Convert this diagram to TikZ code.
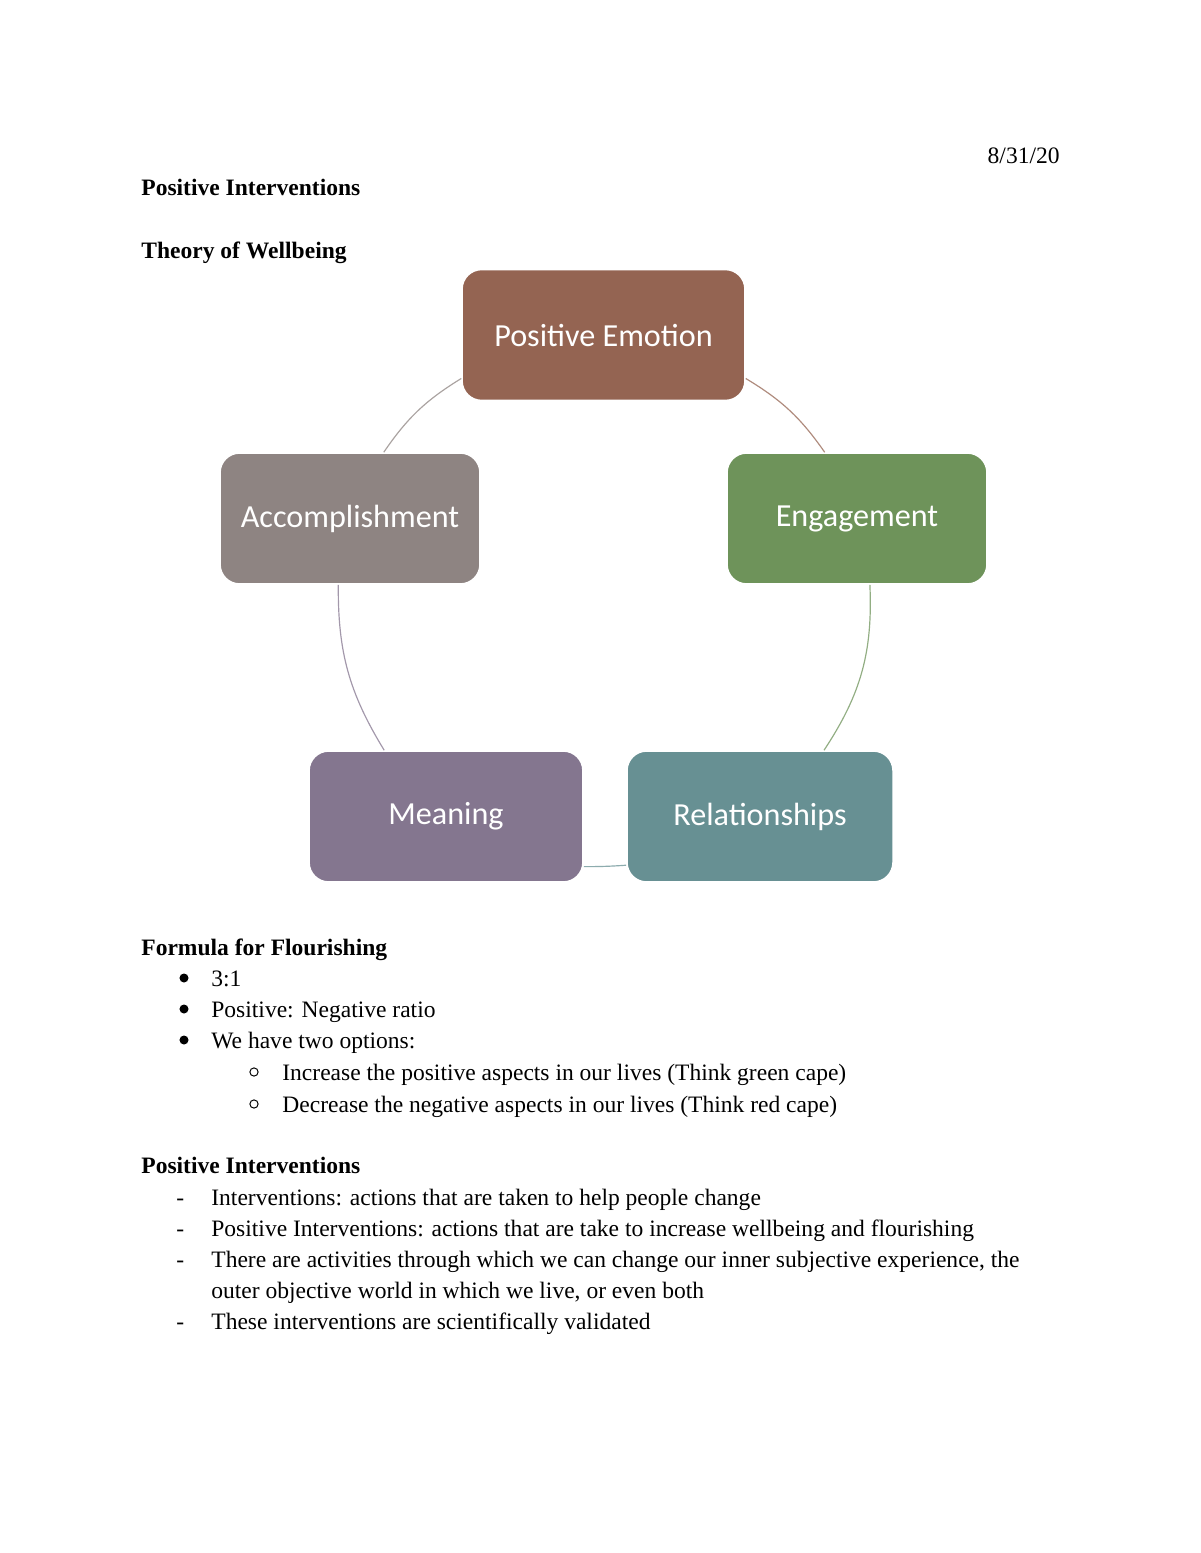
\documentclass[tikz,border=0pt]{standalone}
\usepackage{fontspec}
\setmainfont{Liberation Serif}
\newfontfamily\pillarfont{Carlito}
\usetikzlibrary{positioning,calc}

\definecolor{emotionbrown}{HTML}{946452}
\definecolor{engagegreen}{HTML}{6E935A}
\definecolor{relateteal}{HTML}{679093}
\definecolor{meaningpurple}{HTML}{84768F}
\definecolor{accomplgray}{HTML}{8E8482}

\begin{document}
\begin{tikzpicture}[
    x=0.51pt, y=-0.51pt,
    pillar/.style={rectangle, draw=white, line width=0.8pt, rounded corners=10pt,
                text=white, minimum height=66.8pt, font=\pillarfont\fontsize{16.4}{19}\selectfont},
    link/.style={line width=0.6pt},
    body/.style={anchor=base west, inner sep=0pt, font=\fontsize{12}{14}\selectfont},
    heading/.style={anchor=base west, inner sep=0pt, font=\fontsize{12}{14}\selectfont\bfseries},
    dot/.style={circle, fill=black, inner sep=0pt, minimum size=4.6pt},
    ring/.style={circle, draw=black, line width=0.5pt, inner sep=0pt, minimum size=4.2pt}
]
    \useasboundingbox[fill=white] (0,0) rectangle (1200,1553);

    % header
    \node[body, anchor=base east] (date) at (1060,164) {8/31/20};
    \node[heading] (title) at (141,196) {Positive Interventions};
    \node[heading] (theory) at (141,258) {Theory of Wellbeing};

    % PERMA cycle
    \node[pillar, fill=emotionbrown, minimum width=144.3pt] (emotion) at (603.5,335) {Positive Emotion};
    \node[pillar, fill=engagegreen, minimum width=132.6pt] (engage) at (857,518.5) {Engagement};
    \node[pillar, fill=relateteal, minimum width=135.7pt] (relate) at (760,816.5) {Relationships};
    \node[pillar, fill=meaningpurple, minimum width=139.7pt] (meaning) at (446,816.5) {Meaning};
    \node[pillar, fill=accomplgray, minimum width=132.6pt] (accompl) at (350,518.5) {Accomplishment};

    \draw[link, emotionbrown!75] (emotion.-17) to[bend left=12] (engage.116);
    \draw[link, engagegreen!75] (engage.-79) to[bend left=18] (relate.46);
    \draw[link, relateteal!75] (relate.200) to[bend left=2] (meaning.-20);
    \draw[link, meaningpurple!75] (meaning.133) to[bend left=16] (accompl.-100);
    \draw[link, accomplgray!75] (accompl.63) to[bend left=12] (emotion.197);

    % formula
    \node[heading] (formula) at (141,955) {Formula for Flourishing};
    \node[dot] (b1) at (184,978) {};
    \node[body] (ratio) at (211,986) {3:1};
    \node[dot] (b2) at (184,1009) {};
    \node[body] (posneg) at (211,1017) {Positive: Negative ratio};
    \node[dot] (b3) at (184,1040) {};
    \node[body] (options) at (211,1048) {We have two options:};
    \node[ring] (o1) at (254,1072) {};
    \node[body] (increase) at (282,1080) {Increase the positive aspects in our lives (Think green cape)};
    \node[ring] (o2) at (254,1104) {};
    \node[body] (decrease) at (282,1112) {Decrease the negative aspects in our lives (Think red cape)};

    % interventions
    \node[heading] (interv) at (141,1173) {Positive Interventions};
    \node[body] (d1) at (176,1205) {-};
    \node[body] (def) at (211,1205) {Interventions: actions that are taken to help people change};
    \node[body] (d2) at (176,1236) {-};
    \node[body] (posdef) at (211,1236) {Positive Interventions: actions that are take to increase wellbeing and flourishing};
    \node[body] (d3) at (176,1267) {-};
    \node[body] (acts) at (211,1267) {There are activities through which we can change our inner subjective experience, the};
    \node[body] (acts2) at (211,1298) {outer objective world in which we live, or even both};
    \node[body] (d4) at (176,1329) {-};
    \node[body] (valid) at (211,1329) {These interventions are scientifically validated};
\end{tikzpicture}
\end{document}
